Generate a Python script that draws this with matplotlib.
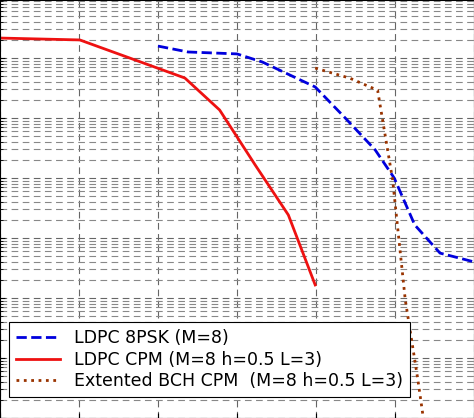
import numpy as np
import matplotlib
matplotlib.use("Agg")
import matplotlib.pyplot as plt

# Eb/N0 (dB) and BER
snr_8psk = [2.0, 2.38, 3.0, 3.32, 3.67, 3.99, 4.37, 4.75, 4.99, 5.25, 5.57, 6.0]
ber_8psk = [0.158, 0.126, 0.117, 0.0858, 0.052, 0.0329, 0.01, 2.93e-3, 1e-3, 1.65e-4, 5.6e-5, 4e-5]

snr_cpm = [0.0, 1.01, 2.34, 2.78, 3.23, 3.65, 3.99]
ber_cpm = [0.215, 0.2, 0.0464, 0.0136, 1.65e-3, 2.42e-4, 1.65e-5]

snr_bch = [3.99, 4.43, 4.78, 4.97, 5.13, 5.29, 5.38]
ber_bch = [0.068, 0.046, 0.029, 9.3e-4, 9.3e-6, 4.3e-7, 6.3e-8]

fig = plt.figure(figsize=(4.74, 4.18), dpi=100)
ax = fig.add_axes([0, 0, 1, 1])
ax.semilogy(snr_8psk, ber_8psk, '--', color='#0000dd', lw=2, label='LDPC 8PSK (M=8)')
ax.semilogy(snr_cpm, ber_cpm, '-', color='#ee1111', lw=2, label='LDPC CPM (M=8 h=0.5 L=3)')
ax.semilogy(snr_bch, ber_bch, ':', color='#993300', lw=2, label='Extented BCH CPM  (M=8 h=0.5 L=3)')

ax.set_xlim(0, 6)
ax.set_ylim(1e-7, 10 ** (-1 + 58 / 60))
ax.set_xticks(range(7))
ax.grid(True, which='major', ls=(0, (6, 4)), color='#666666', lw=0.8)
ax.grid(True, which='minor', axis='y', ls=(0, (6, 4)), color='#888888', lw=0.8)
ax.tick_params(which='both', direction='in', labelleft=False, labelbottom=False)

leg = ax.legend(loc='lower left', bbox_to_anchor=(0.02, 0.05), fontsize=12.5,
                fancybox=False, edgecolor='black', framealpha=1, borderaxespad=0,
                handlelength=2.5, labelspacing=0.2)
leg.get_frame().set_linewidth(0.8)

fig.savefig('out.png', dpi=100)
